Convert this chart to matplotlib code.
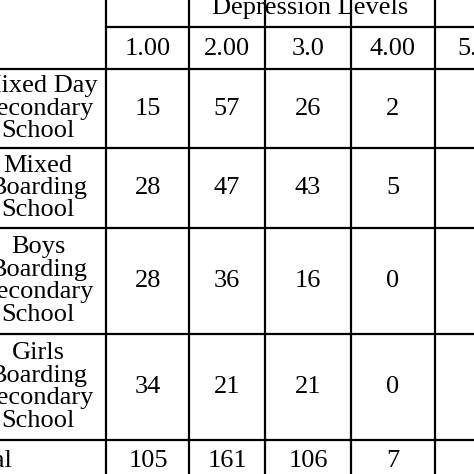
import matplotlib
matplotlib.use("Agg")
import matplotlib.pyplot as plt

header = "Depression Levels"
levels = ["1.00", "2.00", "3.0", "4.00", "5.00"]
schools = ["Mixed Day\nSecondary\nSchool", "Mixed\nBoarding\nSchool",
           "Boys\nBoarding\nSecondary\nSchool", "Girls\nBoarding\nSecondary\nSchool"]
values = [[15, 57, 26, 2, 0],
          [28, 47, 43, 5, 0],
          [28, 36, 16, 0, 0],
          [34, 21, 21, 0, 0]]
totals = [105, 161, 106, 7, 0]

fig = plt.figure(figsize=(4.74, 4.74), dpi=100)
ax = fig.add_axes([0, 0, 1, 1])
ax.set_xlim(0, 474); ax.set_ylim(474, 0); ax.axis("off")
fs = 19
fam = "Liberation Serif"
lw = 1.6
vx = [106, 189, 265, 351, 435]
hy = [69, 148, 228, 334, 440]
for x in vx:
    ax.plot([x, x], [-5, 480], color="black", lw=lw)
ax.plot([106, 480], [27, 27], color="black", lw=lw)
for y in hy:
    ax.plot([-5, 480], [y, y], color="black", lw=lw)
colx = [148, 227, 308, 393, 480]
ax.text(310, 8, header, ha="center", va="center", fontsize=fs, family=fam)
for c, l in zip(colx, levels):
    ax.text(c, 49, l, ha="center", va="center", fontsize=fs, family=fam)
rows = [(69, 148), (148, 228), (228, 334), (334, 440)]
for (a, b), s, vals in zip(rows, schools, values):
    m = (a + b) / 2
    ax.text(38, m, s, ha="center", va="center", fontsize=fs, family=fam, linespacing=1.02)
    for c, v in zip(colx, vals):
        ax.text(c, m, str(v), ha="center", va="center", fontsize=fs, family=fam)
ax.text(12, 461, "Total", ha="right", va="center", fontsize=fs, family=fam)
for c, v in zip(colx, totals):
    ax.text(c, 461, str(v), ha="center", va="center", fontsize=fs, family=fam)
fig.savefig("out.png", dpi=100)
